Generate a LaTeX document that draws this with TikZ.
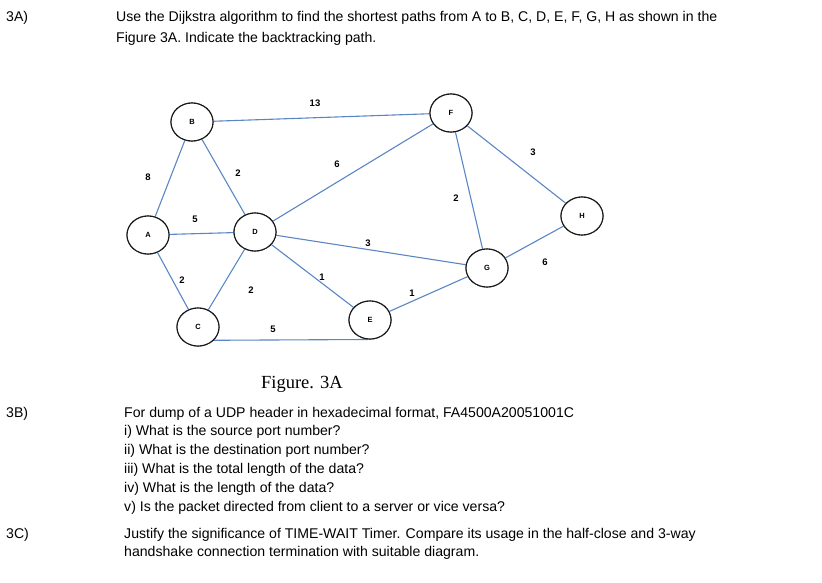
\documentclass[tikz,border=0pt]{standalone}
\usepackage{fontspec}
\setmainfont{Liberation Sans}
\newfontfamily\figfont{Liberation Serif}
\usetikzlibrary{shapes.geometric}
\definecolor{EdgeBlue}{HTML}{5A86C4}
\definecolor{NodeLine}{HTML}{1A1A1A}

\begin{document}
\begin{tikzpicture}[x=1pt,y=-1pt,
    vertex/.style={ellipse,draw=NodeLine,line width=1.1pt,fill=white,minimum width=42pt,minimum height=38pt,inner sep=0pt,font=\bfseries\fontsize{7.5}{7.5}\selectfont},
    link/.style={EdgeBlue,line width=1.1pt},
    weight/.style={inner sep=0pt,font=\bfseries\fontsize{9.5}{9.5}\selectfont},
    qtext/.style={anchor=base west,inner sep=0pt,font=\fontsize{14.1}{14.1}\selectfont}]
    \useasboundingbox (0,0) rectangle (822,582);
    % vertices of figure 3A
    \foreach \n/\x/\y in {A/148/235, B/192/122, C/198/327, D/255/232, E/370/320, F/451/113, G/487/268, H/582/216}
      \node[vertex] (\n) at (\x,\y) {\n};
    % edges with their weights
    \foreach \a/\b/\w/\x/\y in {
      A/B/8/148/177, A/D/5/195/219, A/C/2/182/280, B/D/2/238/173,
      B/F/13/315/103, D/F/6/337/164, D/G/3/368/243, D/E/1/322/277,
      D/C/2/251/290, E/G/1/412/293, F/G/2/456/198,
      F/H/3/533/152, G/H/6/545/262
    } {
      \draw[link] (\a) -- (\b);
      \node[weight] (w\a\b) at (\x,\y) {\w};
    }
    % C to E runs along the bottom
    \draw[link] (C.-40) -- (E.-95);
    \node[weight] (wCE) at (273,329) {5};
    \foreach \n in {A,...,H} \node[vertex] at (\n) {\n};
    \node[anchor=base,inner sep=0pt,font=\figfont\fontsize{18.5}{18.5}\selectfont] (cap) at (302,388) {Figure. 3A};
    % question text
    \node[qtext] (q3a) at (6,21) {3A)};
    \node[qtext] (q3a1) at (116,21) {Use the Dijkstra algorithm to find the shortest paths from A to B, C, D, E, F, G, H as shown in the};
    \node[qtext] (q3a2) at (116,42) {Figure 3A. Indicate the backtracking path.};
    \node[qtext] (q3b) at (6,417) {3B)};
    \foreach \t [count=\i] in {
      {For dump of a UDP header in hexadecimal format, FA4500A20051001C},
      {i) What is the source port number?},
      {ii) What is the destination port number?},
      {iii) What is the total length of the data?},
      {iv) What is the length of the data?},
      {v) Is the packet directed from client to a server or vice versa?}
    } \node[qtext] (q3b\i) at (124,{417+18.8*(\i-1)}) {\t};
    \node[qtext] (q3c) at (6,538) {3C)};
    \node[qtext] (q3c1) at (124,538) {Justify the significance of TIME-WAIT Timer. Compare its usage in the half-close and 3-way};
    \node[qtext] (q3c2) at (124,556) {handshake connection termination with suitable diagram.};
  \end{tikzpicture}
\end{document}
